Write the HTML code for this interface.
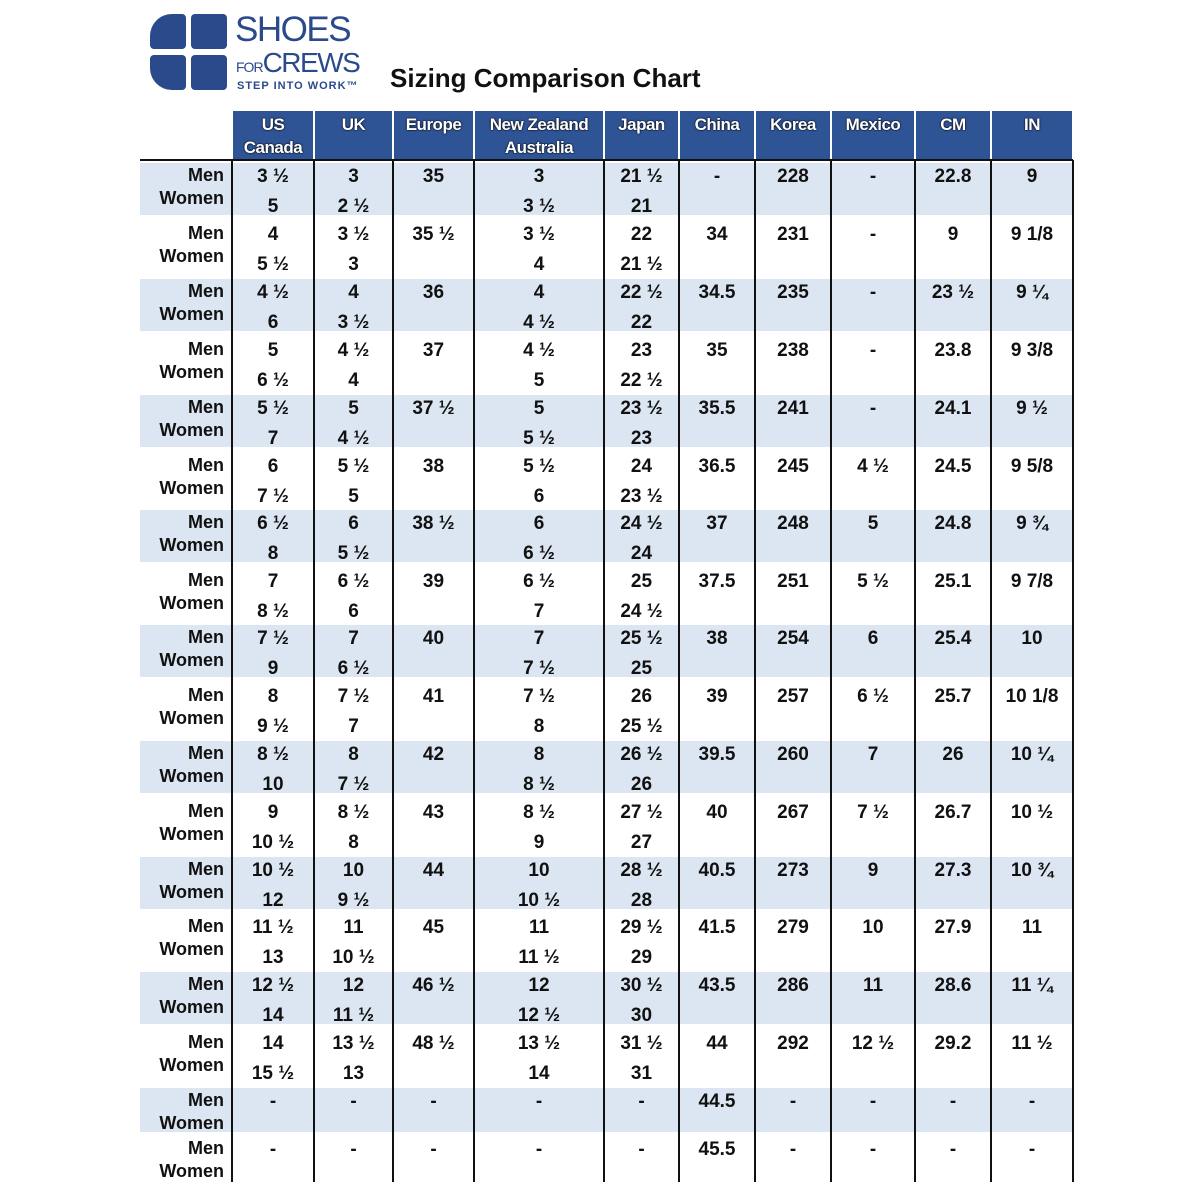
<!DOCTYPE html>
<html><head><meta charset="utf-8"><style>
body{margin:0;width:1200px;height:1200px;background:#fff;position:relative;overflow:hidden;font-family:"Liberation Sans",sans-serif;}
.abs{position:absolute}
.sq{position:absolute;background:#2b4a8b;width:36px;height:35px}
.hd{position:absolute;top:111px;height:48px;box-sizing:border-box;padding-top:2px;background:#2f5496;color:#fff;font-weight:bold;font-size:17px;text-align:center;line-height:23px;text-shadow:0 0 2px #000,0 0 1px #000;letter-spacing:-0.5px}
.r{position:absolute;left:140px;width:933px;height:58px}
.r.s::before{content:"";position:absolute;left:0;right:0;top:3px;bottom:3px;background:#dce6f2}
.r span{position:absolute;top:2px;text-align:center;font-weight:bold;font-size:19px;line-height:30px;color:#111;}
.r span.l{left:0;top:0;width:84px;text-align:right;line-height:23px;padding-top:4px;font-size:18px}
.a{left:92px;width:82px}.b{left:174px;width:79px}.c{left:253px;width:81px}.d{left:334px;width:130px}.e{left:464px;width:75px}.f{left:539px;width:76px}.g{left:615px;width:76px}.h{left:691px;width:84px}.i{left:775px;width:76px}.j{left:851px;width:82px}
.v{position:absolute;top:160px;height:1022px;width:2px;background:#111}
</style></head><body>
<div class="sq" style="left:150px;top:14px;border-radius:22px 4px 4px 4px"></div>
<div class="sq" style="left:191px;top:14px;border-radius:4px"></div>
<div class="sq" style="left:150px;top:55px;border-radius:4px 4px 4px 22px"></div>
<div class="sq" style="left:191px;top:55px;border-radius:4px"></div>
<div class="abs" style="left:235px;top:10px;font-size:35px;color:#2b4a8b;letter-spacing:-1.5px">SHOES</div>
<div class="abs" style="left:236px;top:47px;color:#2b4a8b"><span style="font-size:14px;letter-spacing:-1px">FOR</span><span style="font-size:28px;letter-spacing:-1.5px">CREWS</span></div>
<div class="abs" style="left:237px;top:80px;font-size:11px;font-weight:bold;color:#2b4a8b;letter-spacing:1px">STEP INTO WORK™</div>
<div class="abs" style="left:390px;top:63px;font-size:26px;font-weight:bold;color:#111">Sizing Comparison Chart</div>

<div class="hd" style="left:233px;width:80px">US<br>Canada</div>
<div class="hd" style="left:315px;width:77px">UK</div>
<div class="hd" style="left:394px;width:79px">Europe</div>
<div class="hd" style="left:475px;width:128px">New Zealand<br>Australia</div>
<div class="hd" style="left:605px;width:73px">Japan</div>
<div class="hd" style="left:680px;width:74px">China</div>
<div class="hd" style="left:756px;width:74px">Korea</div>
<div class="hd" style="left:832px;width:82px">Mexico</div>
<div class="hd" style="left:916px;width:74px">CM</div>
<div class="hd" style="left:992px;width:80px">IN</div>
<div class="abs" style="left:140px;top:159px;width:933px;height:2px;background:#111"></div>

<div class="r s" style="top:160px"><span class="l">Men<br>Women</span><span class="a">3 ½<br>5</span><span class="b">3<br>2 ½</span><span class="c">35</span><span class="d">3<br>3 ½</span><span class="e">21 ½<br>21</span><span class="f">-</span><span class="g">228</span><span class="h">-</span><span class="i">22.8</span><span class="j">9</span></div>
<div class="r" style="top:218px"><span class="l">Men<br>Women</span><span class="a">4<br>5 ½</span><span class="b">3 ½<br>3</span><span class="c">35 ½</span><span class="d">3 ½<br>4</span><span class="e">22<br>21 ½</span><span class="f">34</span><span class="g">231</span><span class="h">-</span><span class="i">9</span><span class="j">9 1/8</span></div>
<div class="r s" style="top:276px"><span class="l">Men<br>Women</span><span class="a">4 ½<br>6</span><span class="b">4<br>3 ½</span><span class="c">36</span><span class="d">4<br>4 ½</span><span class="e">22 ½<br>22</span><span class="f">34.5</span><span class="g">235</span><span class="h">-</span><span class="i">23 ½</span><span class="j">9 ¼</span></div>
<div class="r" style="top:334px"><span class="l">Men<br>Women</span><span class="a">5<br>6 ½</span><span class="b">4 ½<br>4</span><span class="c">37</span><span class="d">4 ½<br>5</span><span class="e">23<br>22 ½</span><span class="f">35</span><span class="g">238</span><span class="h">-</span><span class="i">23.8</span><span class="j">9 3/8</span></div>
<div class="r s" style="top:392px"><span class="l">Men<br>Women</span><span class="a">5 ½<br>7</span><span class="b">5<br>4 ½</span><span class="c">37 ½</span><span class="d">5<br>5 ½</span><span class="e">23 ½<br>23</span><span class="f">35.5</span><span class="g">241</span><span class="h">-</span><span class="i">24.1</span><span class="j">9 ½</span></div>
<div class="r" style="top:450px"><span class="l">Men<br>Women</span><span class="a">6<br>7 ½</span><span class="b">5 ½<br>5</span><span class="c">38</span><span class="d">5 ½<br>6</span><span class="e">24<br>23 ½</span><span class="f">36.5</span><span class="g">245</span><span class="h">4 ½</span><span class="i">24.5</span><span class="j">9 5/8</span></div>
<div class="r s" style="top:507px"><span class="l">Men<br>Women</span><span class="a">6 ½<br>8</span><span class="b">6<br>5 ½</span><span class="c">38 ½</span><span class="d">6<br>6 ½</span><span class="e">24 ½<br>24</span><span class="f">37</span><span class="g">248</span><span class="h">5</span><span class="i">24.8</span><span class="j">9 ¾</span></div>
<div class="r" style="top:565px"><span class="l">Men<br>Women</span><span class="a">7<br>8 ½</span><span class="b">6 ½<br>6</span><span class="c">39</span><span class="d">6 ½<br>7</span><span class="e">25<br>24 ½</span><span class="f">37.5</span><span class="g">251</span><span class="h">5 ½</span><span class="i">25.1</span><span class="j">9 7/8</span></div>
<div class="r s" style="top:622px"><span class="l">Men<br>Women</span><span class="a">7 ½<br>9</span><span class="b">7<br>6 ½</span><span class="c">40</span><span class="d">7<br>7 ½</span><span class="e">25 ½<br>25</span><span class="f">38</span><span class="g">254</span><span class="h">6</span><span class="i">25.4</span><span class="j">10</span></div>
<div class="r" style="top:680px"><span class="l">Men<br>Women</span><span class="a">8<br>9 ½</span><span class="b">7 ½<br>7</span><span class="c">41</span><span class="d">7 ½<br>8</span><span class="e">26<br>25 ½</span><span class="f">39</span><span class="g">257</span><span class="h">6 ½</span><span class="i">25.7</span><span class="j">10 1/8</span></div>
<div class="r s" style="top:738px"><span class="l">Men<br>Women</span><span class="a">8 ½<br>10</span><span class="b">8<br>7 ½</span><span class="c">42</span><span class="d">8<br>8 ½</span><span class="e">26 ½<br>26</span><span class="f">39.5</span><span class="g">260</span><span class="h">7</span><span class="i">26</span><span class="j">10 ¼</span></div>
<div class="r" style="top:796px"><span class="l">Men<br>Women</span><span class="a">9<br>10 ½</span><span class="b">8 ½<br>8</span><span class="c">43</span><span class="d">8 ½<br>9</span><span class="e">27 ½<br>27</span><span class="f">40</span><span class="g">267</span><span class="h">7 ½</span><span class="i">26.7</span><span class="j">10 ½</span></div>
<div class="r s" style="top:854px"><span class="l">Men<br>Women</span><span class="a">10 ½<br>12</span><span class="b">10<br>9 ½</span><span class="c">44</span><span class="d">10<br>10 ½</span><span class="e">28 ½<br>28</span><span class="f">40.5</span><span class="g">273</span><span class="h">9</span><span class="i">27.3</span><span class="j">10 ¾</span></div>
<div class="r" style="top:911px"><span class="l">Men<br>Women</span><span class="a">11 ½<br>13</span><span class="b">11<br>10 ½</span><span class="c">45</span><span class="d">11<br>11 ½</span><span class="e">29 ½<br>29</span><span class="f">41.5</span><span class="g">279</span><span class="h">10</span><span class="i">27.9</span><span class="j">11</span></div>
<div class="r s" style="top:969px"><span class="l">Men<br>Women</span><span class="a">12 ½<br>14</span><span class="b">12<br>11 ½</span><span class="c">46 ½</span><span class="d">12<br>12 ½</span><span class="e">30 ½<br>30</span><span class="f">43.5</span><span class="g">286</span><span class="h">11</span><span class="i">28.6</span><span class="j">11 ¼</span></div>
<div class="r" style="top:1027px"><span class="l">Men<br>Women</span><span class="a">14<br>15 ½</span><span class="b">13 ½<br>13</span><span class="c">48 ½</span><span class="d">13 ½<br>14</span><span class="e">31 ½<br>31</span><span class="f">44</span><span class="g">292</span><span class="h">12 ½</span><span class="i">29.2</span><span class="j">11 ½</span></div>
<div class="r s" style="top:1085px;height:50px"><span class="l">Men<br>Women</span><span class="a">-</span><span class="b">-</span><span class="c">-</span><span class="d">-</span><span class="e">-</span><span class="f">44.5</span><span class="g">-</span><span class="h">-</span><span class="i">-</span><span class="j">-</span></div>
<div class="r" style="top:1133px;height:50px"><span class="l">Men<br>Women</span><span class="a">-</span><span class="b">-</span><span class="c">-</span><span class="d">-</span><span class="e">-</span><span class="f">45.5</span><span class="g">-</span><span class="h">-</span><span class="i">-</span><span class="j">-</span></div>

<div class="v" style="left:231px"></div><div class="v" style="left:313px"></div><div class="v" style="left:392px"></div><div class="v" style="left:473px"></div><div class="v" style="left:603px"></div><div class="v" style="left:678px"></div><div class="v" style="left:754px"></div><div class="v" style="left:830px"></div><div class="v" style="left:914px"></div><div class="v" style="left:990px"></div><div class="v" style="left:1072px"></div>
</body></html>
